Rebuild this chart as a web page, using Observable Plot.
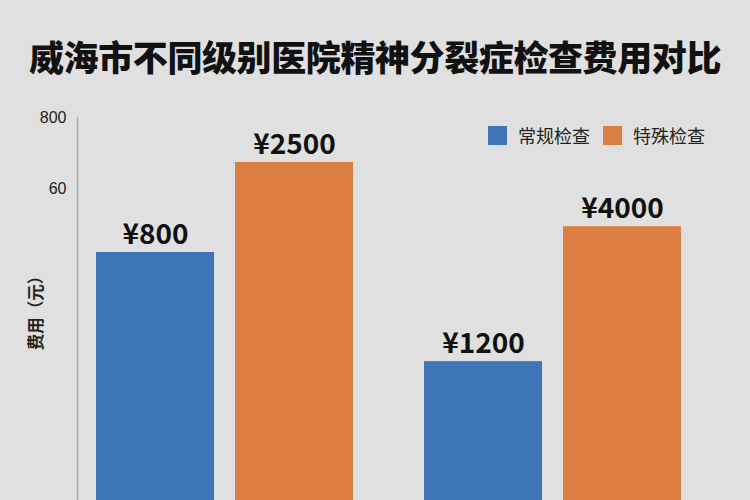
<!DOCTYPE html>
<html>
<head>
<meta charset="utf-8">
<script src="https://cdn.jsdelivr.net/npm/d3@7"></script>
<script src="https://cdn.jsdelivr.net/npm/@observablehq/plot@0.6"></script>
<style>
  html, body { margin: 0; padding: 0; background: #e0e0e0; width: 750px; height: 500px; overflow: hidden; }
  body { position: relative; font-family: "Noto Sans CJK SC", "Noto Sans", sans-serif; }
  #title { position: absolute; left: 0; top: 36px; width: 750px; text-align: center; font-size: 35px; font-weight: 900; line-height: 40px; color: #111; letter-spacing: -0.4px; }
  #chart { position: absolute; left: 0; top: 100px; }
  #ylabel { position: absolute; left: 35px; top: 309px; transform: translate(-50%, -50%) rotate(-90deg); white-space: nowrap; font-size: 16.5px; font-weight: bold; color: #222; }
  #legend { position: absolute; left: 488px; top: 122px; display: flex; align-items: center; font-size: 18px; color: #222; }
  #legend .sw { width: 19px; height: 19px; display: inline-block; margin-right: 11px; }
  #legend .item { display: flex; align-items: center; margin-right: 13px; }
  svg [aria-label="frame"], svg [aria-label="frame"] * { stroke: #aaaaaa !important; stroke-width: 1.5px; }
</style>
</head>
<body>
<div id="title"></div>
<div id="chart"></div>
<div id="ylabel"></div>
<div id="legend"></div>
<script>
const titleText = "威海市不同级别医院精神分裂症检查费用对比";
const yLabel = "费用（元）";
const groups = ["二级医院", "三级医院"];
const series = ["常规检查", "特殊检查"];
const colors = ["#3d75b6", "#dc7e42"];
// bar lengths as read against the drawn axis (top tick "800")
const barHeights = [[518, 706], [290, 572]];
// value labels printed above the bars
const barLabels = [["¥800", "¥2500"], ["¥1200", "¥4000"]];
const yTicks = [800, 650];
const yTickLabels = ["800", "60"];

const data = [];
groups.forEach((g, i) => series.forEach((s, j) => data.push({group: g, series: s, h: barHeights[i][j], label: barLabels[i][j]})));

document.getElementById("title").textContent = titleText;
document.getElementById("ylabel").textContent = yLabel;

const plot = Plot.plot({
  width: 750,
  height: 400,
  marginTop: 17,
  marginBottom: 0,
  marginLeft: 77,
  marginRight: 50,
  style: {background: "transparent", fontFamily: "'Noto Sans CJK SC', 'Noto Sans', sans-serif", color: "#222"},
  fx: {domain: groups, axis: null, paddingInner: 0.1035, paddingOuter: 0, label: null},
  x: {domain: series, axis: null, paddingInner: 0.154, paddingOuter: 0.133},
  y: {domain: [0, 800], axis: null},
  color: {domain: series, range: colors},
  marks: [
    Plot.frame({anchor: "left", facetAnchor: "left", stroke: "#aaaaaa", strokeWidth: 1.5}),
    Plot.axisY({ticks: yTicks, tickFormat: d => yTickLabels[yTicks.indexOf(d)], tickSize: 0, tickPadding: 11,
      label: null, fontSize: 16, fontFamily: "'Liberation Sans', Arial, sans-serif", fill: "#222"}),
    Plot.barY(data, {fx: "group", x: "series", y: "h", fill: "series"}),
    Plot.text(data, {fx: "group", x: "series", y: "h", text: "label", dy: -9, lineAnchor: "bottom", fontSize: 28, fontWeight: "bold", fill: "#111"})
  ]
});
document.getElementById("chart").appendChild(plot);

const legend = document.getElementById("legend");
series.forEach((s, i) => {
  const item = document.createElement("div");
  item.className = "item";
  const sw = document.createElement("span");
  sw.className = "sw";
  sw.style.background = colors[i];
  const t = document.createElement("span");
  t.textContent = s;
  item.appendChild(sw);
  item.appendChild(t);
  legend.appendChild(item);
});
</script>
</body>
</html>
